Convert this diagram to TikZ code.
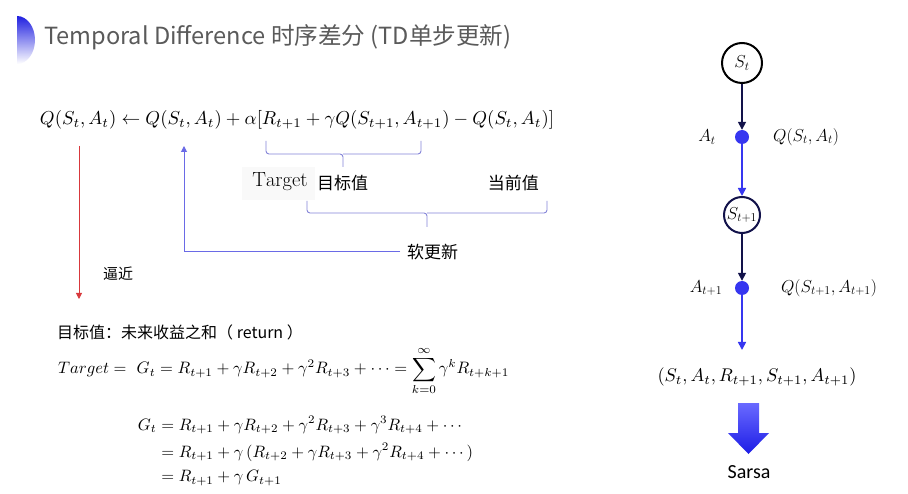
\documentclass[tikz,border=0pt]{standalone}
\usepackage{amsmath}
\usepackage{graphicx}
\usepackage{fontspec}
\usetikzlibrary{arrows.meta}
\newfontfamily\cjk{Noto Sans CJK SC}
\newfontfamily\carl{Carlito}
\definecolor{titlegray}{HTML}{5A5A5A}
\definecolor{navy}{HTML}{12124A}
\definecolor{dotblue}{HTML}{3636F0}
\definecolor{softblue}{HTML}{6A6AE6}
\definecolor{bracecol}{HTML}{8585D8}
\definecolor{redline}{HTML}{D8383C}
\definecolor{disktop}{HTML}{2020E0}
\definecolor{arrowtop}{HTML}{6A6AFF}
\definecolor{arrowbot}{HTML}{1C1CE6}
\begin{document}
\begin{tikzpicture}[x=1pt,y=-1pt,
  cjklabel/.style={font=\cjk\fontsize{16}{19}\selectfont, inner sep=0pt},
  mathlabel/.style={font=\fontsize{17}{20}\selectfont, inner sep=0pt},
  statenode/.style={circle, draw, line width=2pt, inner sep=0pt, font=\fontsize{18}{20}\selectfont},
  actdot/.style={circle, fill=dotblue, minimum size=14pt, inner sep=0pt},
  navyarrow/.style={navy, line width=1.6pt, -{Triangle[length=8pt,width=8pt]}},
  bluearrow/.style={dotblue, line width=1.6pt, -{Triangle[length=8pt,width=8pt]}},
  bracelines/.style={bracecol, line width=0.9pt, rounded corners=3pt}]
\useasboundingbox[fill=white] (0,0) rectangle (908,494);

% title
\shade[top color=disktop, bottom color=white]
  (17,16) .. controls (27,16) and (35,26.75) .. (35,40)
  .. controls (35,53.25) and (27,64) .. (17,64) -- cycle;
\node[anchor=west, inner sep=0pt, text=titlegray, font=\cjk\fontsize{23.6}{28}\selectfont] (title) at (44,37) {Temporal Difference 时序差分 (TD单步更新)};

% main equation
\node[inner sep=0pt] (eq) at (297,120) {\resizebox{514pt}{!}{$Q(S_t,A_t)\leftarrow Q(S_t,A_t)+\alpha[R_{t+1}+\gamma Q(S_{t+1},A_{t+1})-Q(S_t,A_t)]$}};

% red approach arrow
\coordinate (r1) at (79,146);
\coordinate (r2) at (79,299);
\draw[redline, line width=0.8pt, -{Triangle[length=6pt,width=6pt]}] (r1) -- (r2);
\node[cjklabel, font=\cjk\fontsize{15}{18}\selectfont] (bj) at (118,274) {逼近};

% soft update arrow
\node[cjklabel, anchor=west, font=\cjk\fontsize{17}{20}\selectfont] (soft) at (407,252) {软更新};
\coordinate (s1) at (184,146);
\draw[softblue, line width=1pt, -{Triangle[length=6pt,width=6pt]}, shorten <=7pt] (soft.west) -| (s1);

% braces
\draw[bracelines] (266,141) |- (343,154) -- (343,167);
\draw[bracelines] (421,141) |- (343,154);
\draw[bracelines] (307,201) |- (427,213) -- (427,227);
\draw[bracelines] (547,201) |- (427,213);

% target labels
\fill[gray!5] (242,167) rectangle (315,200);
\node[inner sep=0pt, font=\fontsize{20.5}{22}\selectfont] (tgt) at (280,182) {$\mathrm{Target}$};
\node[cjklabel, anchor=west, font=\cjk\fontsize{17}{20}\selectfont] (mbz) at (317,183) {目标值};
\node[cjklabel, anchor=east, font=\cjk\fontsize{17}{20}\selectfont] (dqz) at (539,183) {当前值};

% return
\node[cjklabel, anchor=west] (ret) at (57,332.5) {目标值：未来收益之和（ return ）};
\node[inner sep=0pt, anchor=west] (teq) at (58,371) {\resizebox{451pt}{!}{$\displaystyle Target = \ G_t = R_{t+1}+\gamma R_{t+2}+\gamma^2R_{t+3}+\cdots = \sum_{k=0}^{\infty}\gamma^kR_{t+k+1}$}};
\node[inner sep=0pt] (gblk) at (305.5,452) {\resizebox{335pt}{!}{$\begin{aligned}G_t&=R_{t+1}+\gamma R_{t+2}+\gamma^2R_{t+3}+\gamma^3R_{t+4}+\cdots\\&=R_{t+1}+\gamma\,(R_{t+2}+\gamma R_{t+3}+\gamma^2R_{t+4}+\cdots)\\&=R_{t+1}+\gamma\,G_{t+1}\end{aligned}$}};

% backup diagram
\node[statenode, minimum size=40pt] (st) at (742,63) {$S_t$};
\node[actdot] (at) at (742,137) {};
\node[statenode, draw=navy, minimum size=36pt] (st1) at (742,215) {$S_{t+1}$};
\node[actdot] (at1) at (742,288) {};
\coordinate (endp) at (742,350);
\draw[navyarrow] (st) -- (at);
\draw[bluearrow] (at) -- (st1);
\draw[navyarrow] (st1) -- (at1);
\draw[bluearrow] (at1) -- (endp);
\node[mathlabel] (atl) at (707,137) {$A_t$};
\node[mathlabel] (qa) at (806,137) {$Q(S_t,A_t)$};
\node[mathlabel] (at1l) at (706,288) {$A_{t+1}$};
\node[mathlabel] (qa1) at (829,288) {$Q(S_{t+1},A_{t+1})$};
\node[inner sep=0pt] (tup) at (757,377) {\resizebox{199pt}{!}{$(S_t,A_t,R_{t+1},S_{t+1},A_{t+1})$}};
\shade[top color=arrowtop, bottom color=arrowbot]
  (738,403) -- (759,403) -- (759,433) -- (769,433) -- (748.5,454) -- (728,433) -- (738,433) -- cycle;
\node[inner sep=0pt, font=\carl\fontsize{20}{24}\selectfont] (sarsa) at (749,472) {Sarsa};
\end{tikzpicture}
\end{document}
